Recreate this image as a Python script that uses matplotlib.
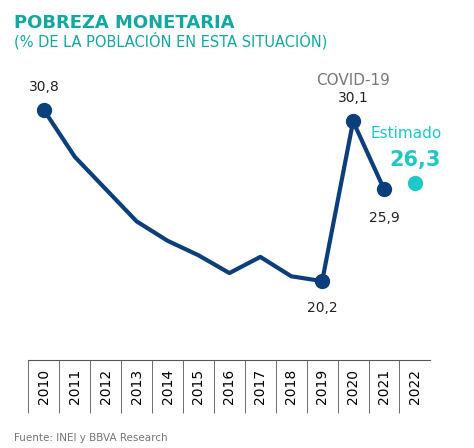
import matplotlib.pyplot as plt

years = list(range(2010, 2023))
pobreza = [30.8, 27.9, 25.9, 23.9, 22.7, 21.8, 20.7, 21.7, 20.5, 20.2, 30.1, 25.9]
estimado_year = 2022
estimado = 26.3

azul = "#0b3f7c"
teal = "#12a8a0"
cian = "#1ec8c8"

fig = plt.figure(figsize=(4.74, 4.48), dpi=100)
ax = fig.add_axes([0.06, 0.196, 0.848, 0.67])

ax.plot(years[:12], pobreza, color=azul, lw=3, solid_joinstyle="round")
for i in [0, 9, 10, 11]:
    ax.plot(years[i], pobreza[i], "o", color=azul, ms=10)
ax.plot(estimado_year, estimado, "o", color=cian, ms=10)

lab = lambda v: f"{v:.1f}".replace(".", ",")
ax.annotate(lab(pobreza[0]), (2010, pobreza[0]), xytext=(0, 14), textcoords="offset points",
            ha="center", fontsize=10, color="#222222")
ax.annotate(lab(pobreza[9]), (2019, pobreza[9]), xytext=(0, -22), textcoords="offset points",
            ha="center", fontsize=10, color="#222222")
ax.annotate(lab(pobreza[10]), (2020, pobreza[10]), xytext=(0, 14), textcoords="offset points",
            ha="center", fontsize=10, color="#222222")
ax.annotate("COVID-19", (2020, pobreza[10]), xytext=(0, 26), textcoords="offset points",
            ha="center", fontsize=11, color="#777777")
ax.annotate(lab(pobreza[11]), (2021, pobreza[11]), xytext=(0, -24), textcoords="offset points",
            ha="center", fontsize=10, color="#222222")
ax.annotate(lab(estimado), (2022, estimado), xytext=(0, 12), textcoords="offset points",
            ha="center", fontsize=15, fontweight="bold", color=cian)
ax.annotate("Estimado", (2022, estimado), xytext=(-6, 32), textcoords="offset points",
            ha="center", fontsize=11, color=cian)

ax.set_xlim(2009.5, 2022.5)
ax.set_ylim(15.3, 33.9)
ax.set_yticks([])
ax.set_xticks(years)
ax.set_xticklabels([str(y) for y in years], rotation=90, fontsize=10)
ax.set_xticks([y + 0.5 for y in years[:-1]] + [2009.5], minor=True)
ax.tick_params(axis="x", which="major", length=0, pad=6)
ax.tick_params(axis="x", which="minor", length=38, color="#555555", direction="out")
for s in ["top", "right", "left"]:
    ax.spines[s].set_visible(False)
ax.spines["bottom"].set_color("#555555")

fig.text(0.03, 0.968, "POBREZA MONETARIA", fontsize=13, fontweight="bold", color=teal, va="top")
fig.text(0.03, 0.928, "(% DE LA POBLACIÓN EN ESTA SITUACIÓN)", fontsize=10.5, color=teal, va="top")
fig.text(0.03, 0.015, "Fuente: INEI y BBVA Research", fontsize=7.5, color="#777777")

fig.savefig("out.png", dpi=100)
